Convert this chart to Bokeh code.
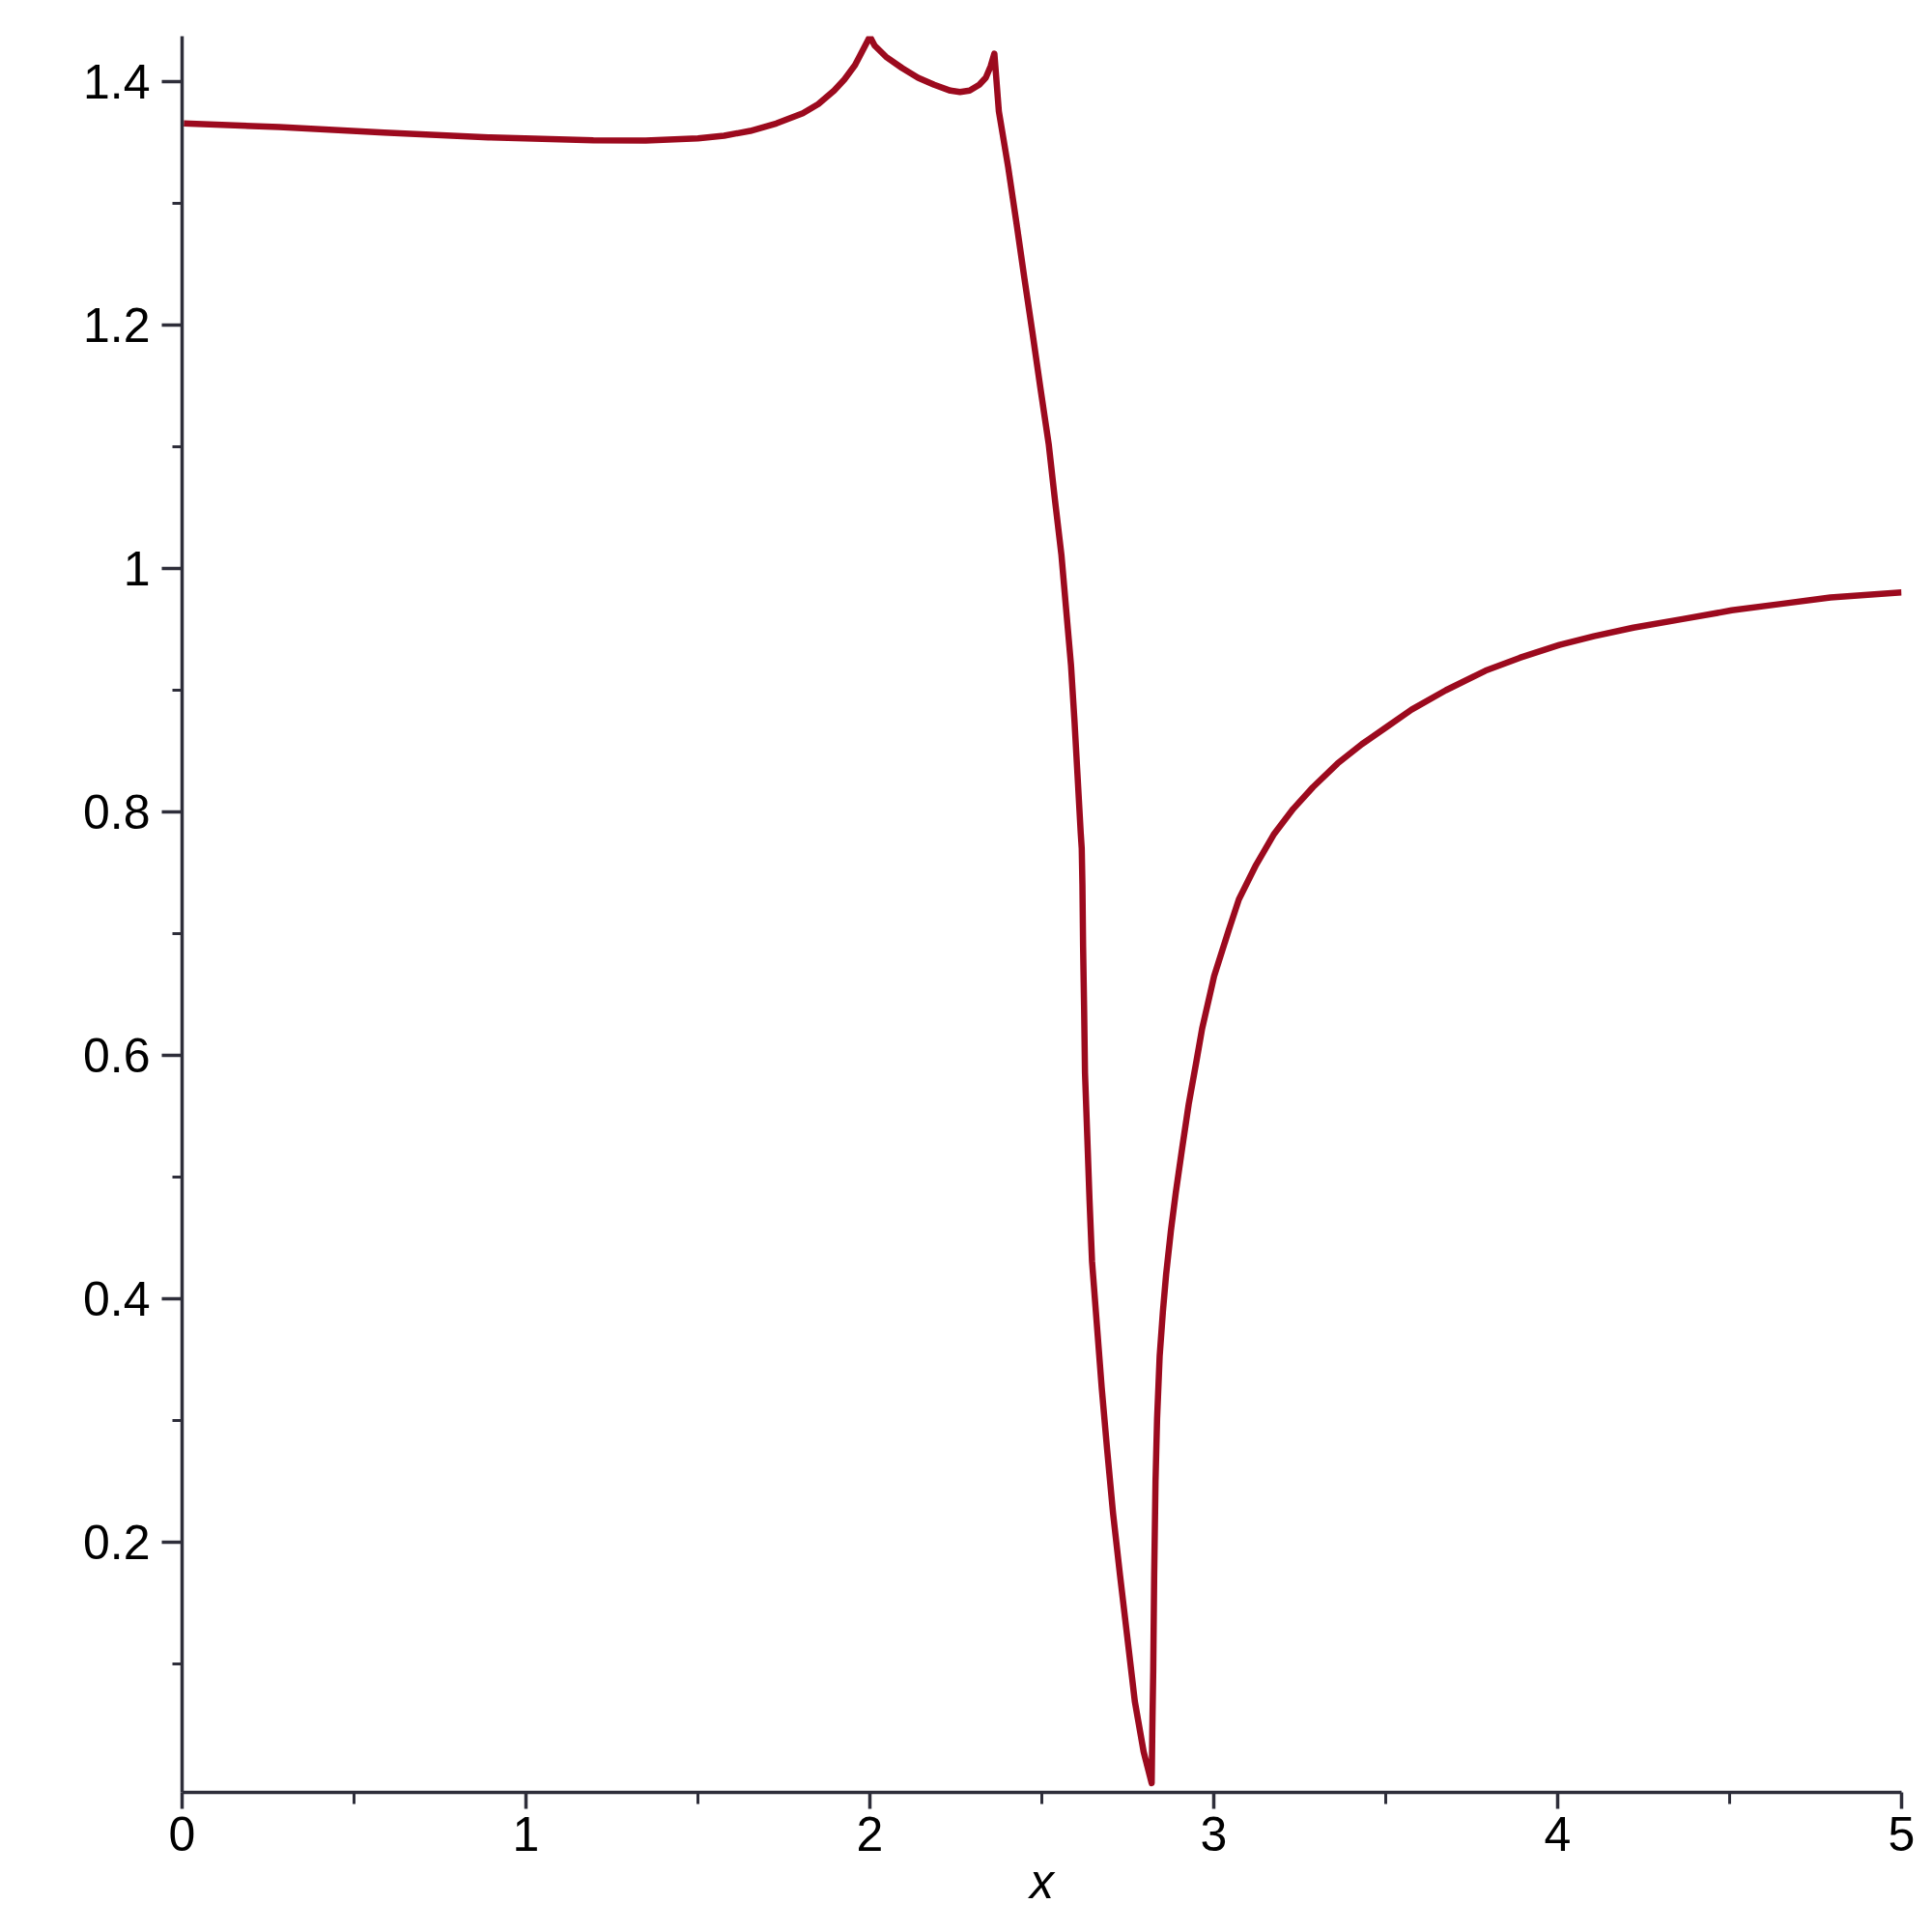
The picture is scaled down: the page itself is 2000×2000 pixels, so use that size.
from bokeh.plotting import figure
from bokeh.models import FixedTicker, CustomJSTickFormatter, Range1d
from bokeh.embed import file_html
from bokeh.resources import INLINE

# ---- data ----
x_vals = [0.005, 0.282, 0.587, 0.891, 1.196, 1.348, 1.500, 1.576, 1.652, 1.728,
          1.805, 1.850, 1.896, 1.926, 1.957, 1.979, 2.000,
          2.014, 2.047, 2.094, 2.140, 2.187, 2.234, 2.262, 2.290, 2.318, 2.337,
          2.351, 2.362,
          2.375, 2.402, 2.426, 2.449, 2.473, 2.496, 2.520, 2.538, 2.557, 2.571,
          2.585, 2.595, 2.604, 2.613,
          2.616, 2.618, 2.620, 2.623, 2.6255, 2.632, 2.6385, 2.646, 2.660, 2.674,
          2.690, 2.707, 2.7275, 2.749, 2.7705, 2.796, 2.8194,
          2.8212, 2.824, 2.8267, 2.8306, 2.8352, 2.8427, 2.852, 2.8615, 2.8755,
          2.8896, 2.908, 2.927, 2.950,
          2.966, 3.001, 3.044, 3.073, 3.123, 3.174, 3.231, 3.288, 3.360, 3.431,
          3.503, 3.575, 3.675, 3.790, 3.890, 4.005, 4.105, 4.220, 4.363, 4.506,
          4.650, 4.793, 5.000]
y_vals = [1.3656, 1.3627, 1.3582, 1.3542, 1.3518, 1.3516, 1.3534, 1.3556, 1.3595, 1.3656,
          1.3740, 1.3815, 1.3926, 1.4018, 1.4137, 1.4256, 1.4370,
          1.4296, 1.4204, 1.4111, 1.4032, 1.3974, 1.3926, 1.3915, 1.3926, 1.3974, 1.4032,
          1.4125, 1.4230,
          1.3756, 1.3300, 1.2844, 1.2390, 1.1933, 1.1480, 1.1022, 1.0566, 1.0110, 0.9655,
          0.9200, 0.8746, 0.8290, 0.7830,
          0.7700, 0.7405, 0.6888, 0.6372, 0.5856, 0.5340, 0.4822, 0.4306, 0.3790, 0.3273,
          0.2757, 0.2240, 0.1725, 0.1208, 0.0691, 0.0278, 0.0020,
          0.0434, 0.0950, 0.1725, 0.2499, 0.3016, 0.3532, 0.3893, 0.4203, 0.4564,
          0.4874, 0.5236, 0.5597, 0.5959,
          0.6218, 0.6650, 0.7033, 0.7282, 0.7565, 0.7813, 0.8025, 0.8202, 0.8398, 0.8557,
          0.8698, 0.8840, 0.9000, 0.9160, 0.9266, 0.9372, 0.9443, 0.9514, 0.9584, 0.9656,
          0.9709, 0.9762, 0.9804]

x_ticks = [0, 1, 2, 3, 4, 5]
x_minor = [0.5, 1.5, 2.5, 3.5, 4.5]
y_ticks = [0.2, 0.4, 0.6, 0.8, 1.0, 1.2, 1.4]
y_minor = [0.1, 0.3, 0.5, 0.7, 0.9, 1.1, 1.3]
x_title = "x"

AXIS_COLOR = "#2e2e3a"
LINE_COLOR = "#9c0a1e"
FONT = "Liberation Sans"

p = figure(width=1984, height=2000, output_backend="svg", toolbar_location=None,
           x_range=Range1d(0, 5), y_range=Range1d(-0.0056, 1.4373),
           min_border_left=188, min_border_top=37, min_border_right=16,
           min_border_bottom=145)
p.grid.visible = False
p.outline_line_color = None
p.background_fill_color = "white"
p.border_fill_color = "white"

fmt = CustomJSTickFormatter(code="return tick.toFixed(1).replace(/\\.0$/, '');")

xa = p.xaxis[0]
xa.ticker = FixedTicker(ticks=x_ticks, minor_ticks=x_minor)
xa.formatter = fmt
ya = p.yaxis[0]
ya.ticker = FixedTicker(ticks=y_ticks, minor_ticks=y_minor)
ya.formatter = fmt

for ax in (xa, ya):
    ax.axis_line_color = AXIS_COLOR
    ax.axis_line_width = 3.5
    ax.major_tick_line_color = AXIS_COLOR
    ax.minor_tick_line_color = AXIS_COLOR
    ax.major_tick_line_width = 3.5
    ax.minor_tick_line_width = 3
    ax.major_tick_in = 0
    ax.minor_tick_in = 0
    ax.major_label_text_font = FONT
    ax.major_label_text_font_size = "50px"
    ax.major_label_text_color = "black"

xa.major_tick_out = 17
xa.minor_tick_out = 12
xa.major_label_standoff = 8
xa.axis_label = x_title
xa.axis_label_text_font = FONT
xa.axis_label_text_font_style = "italic"
xa.axis_label_text_font_size = "50px"
xa.axis_label_text_color = "black"
xa.axis_label_standoff = 1

ya.major_tick_out = 21
ya.minor_tick_out = 10
ya.major_label_standoff = 12

p.line(x_vals, y_vals, line_color=LINE_COLOR, line_width=6.5, line_join="round")

open("out.html", "w").write(file_html(p, INLINE))
